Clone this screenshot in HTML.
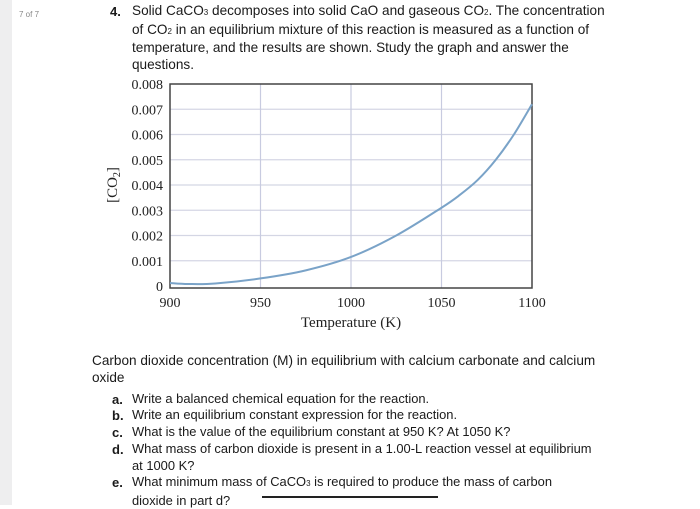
<!DOCTYPE html>
<html><head><meta charset="utf-8"><style>
body{margin:0;width:700px;height:505px;background:#fff;overflow:hidden;position:relative;font-family:"Liberation Sans",sans-serif;color:#1a1a1a}
.t{position:absolute;font-size:12.9px;white-space:nowrap;line-height:16.5px}
.lb{position:absolute;font-weight:bold;font-size:13px}
sub{font-size:8px;vertical-align:baseline}
</style></head><body>
<div style="position:absolute;left:0;top:0;width:12px;height:505px;background:#eeeeef"></div>
<div style="position:absolute;left:19px;top:10px;font-size:8px;color:#888">7 of 7</div>
<div class="lb" style="left:110px;top:4px">4.</div>
<div class="t" style="left:132px;top:3px;font-size:13.6px">Solid CaCO<sub>3</sub> decomposes into solid CaO and gaseous CO<sub>2</sub>. The concentration<br>of CO<sub>2</sub> in an equilibrium mixture of this reaction is measured as a function of<br>temperature, and the results are shown. Study the graph and answer the<br>questions.</div>
<svg id="chart" width="700" height="340" style="position:absolute;left:0;top:0" font-family="Liberation Serif, serif"></svg>
<div class="t" style="left:92px;top:353px;font-size:13.6px">Carbon dioxide concentration (M) in equilibrium with calcium carbonate and calcium<br>oxide</div>
<div>
<div class="lb" style="left:112px;top:392px">a.</div><div class="t" style="left:132px;top:391px">Write a balanced chemical equation for the reaction.</div>
<div class="lb" style="left:112px;top:408px">b.</div><div class="t" style="left:132px;top:407px">Write an equilibrium constant expression for the reaction.</div>
<div class="lb" style="left:112px;top:425px">c.</div><div class="t" style="left:132px;top:424px">What is the value of the equilibrium constant at 950 K? At 1050 K?</div>
<div class="lb" style="left:112px;top:442px">d.</div><div class="t" style="left:132px;top:441px">What mass of carbon dioxide is present in a 1.00-L reaction vessel at equilibrium<br>at 1000 K?</div>
<div class="lb" style="left:112px;top:475px">e.</div><div class="t" style="left:132px;top:474px">What minimum mass of CaCO<sub>3</sub> is required to produce the mass of carbon<br>dioxide in part d?</div>
<div style="position:absolute;left:262px;top:496px;width:176px;height:2px;background:#222"></div>
</div>
<script>
const temps=[900,910,925,950,975,1000,1025,1050,1060,1070,1080,1090,1100];
const co2=[0.00012,0.00008,0.0001,0.0003,0.00062,0.00115,0.002,0.0031,0.0036,0.0042,0.0050,0.0060,0.0072];
const xTicks=[900,950,1000,1050,1100];
const yTicks=[0,0.001,0.002,0.003,0.004,0.005,0.006,0.007,0.008];
const yLabels=["0","0.001","0.002","0.003","0.004","0.005","0.006","0.007","0.008"];
const svg=document.getElementById('chart');const NS='http://www.w3.org/2000/svg';
const X=v=>170+(v-900)/200*362;const Y=v=>286-v/0.008*202;
function mk(t,a){const e=document.createElementNS(NS,t);for(const k in a)e.setAttribute(k,a[k]);svg.appendChild(e);return e;}
yTicks.forEach((v,i)=>{if(i>0&&i<8){const l=mk('line',{x1:170,x2:532,y1:Y(v),y2:Y(v),stroke:'#d4d6e4','stroke-width':1.2});

}
const t=mk('text',{x:163,y:Y(v)+5,'text-anchor':'end','font-size':14,fill:'#222'});t.textContent=yLabels[i];

});
xTicks.forEach(v=>{if(v>900&&v<1100){const l=mk('line',{x1:X(v),x2:X(v),y1:84,y2:288,stroke:'#c8cbe0','stroke-width':1.2});

}
const t=mk('text',{x:X(v),y:307,'text-anchor':'middle','font-size':14,fill:'#222'});t.textContent=v;

});
const fr=mk('rect',{x:170,y:84,width:362,height:204,fill:'none',stroke:'#444','stroke-width':1.5});


const pts=temps.map((t,i)=>[X(t),Y(co2[i])]);
let d='M'+pts[0][0]+','+pts[0][1];
for(let i=0;i<pts.length-1;i++){const p0=pts[Math.max(0,i-1)],p1=pts[i],p2=pts[i+1],p3=pts[Math.min(pts.length-1,i+2)];
d+=' C'+(p1[0]+(p2[0]-p0[0])/6)+','+(p1[1]+(p2[1]-p0[1])/6)+' '+(p2[0]-(p3[0]-p1[0])/6)+','+(p2[1]-(p3[1]-p1[1])/6)+' '+p2[0]+','+p2[1];}
const c=mk('path',{d:d,fill:'none',stroke:'#7aa3c8','stroke-width':2});


const xt=mk('text',{x:351,y:327,'text-anchor':'middle','font-size':15,fill:'#222'});xt.textContent='Temperature (K)';


const yt=mk('text',{x:0,y:0,'text-anchor':'middle','font-size':15,fill:'#222',transform:'translate(117,185) rotate(-90)'});yt.innerHTML='[CO<tspan font-size="10" dy="3">2</tspan><tspan dy="-3">]</tspan>';


</script>
</body></html>
